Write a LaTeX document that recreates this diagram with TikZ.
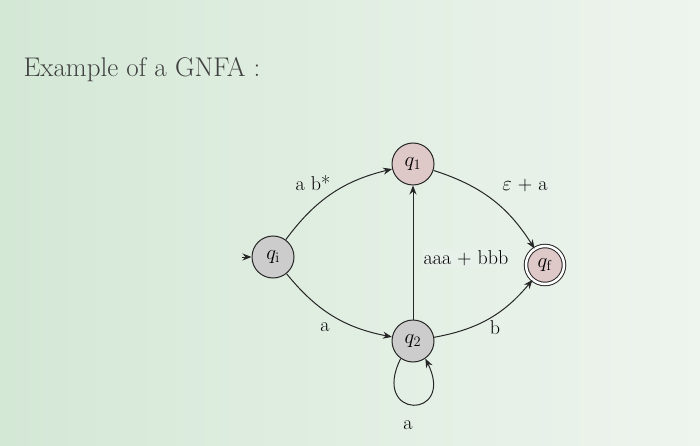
\documentclass[tikz,border=0pt]{standalone}
\usetikzlibrary{arrows.meta}
\begin{document}
\begin{tikzpicture}[x=1pt,y=-1pt,
  st/.style={circle,draw=black!85,line width=1pt,minimum size=42pt,inner sep=0pt,font=\fontsize{22}{26}\selectfont},
  gray st/.style={st,fill=black!20},
  pink st/.style={st,fill={rgb,255:red,222;green,200;blue,200}},
  edge/.style={draw=black!85,line width=1pt,-{Stealth[length=9pt,width=7pt]}},
  lbl/.style={font=\fontsize{20}{24}\selectfont}]
\shade[left color={rgb,255:red,212;green,232;blue,214},right color={rgb,255:red,238;green,244;blue,238}] (0,0) rectangle (700,446);
\useasboundingbox (0,0) rectangle (700,446);
\node[anchor=west,font=\fontsize{27}{32}\selectfont,text=black!75] (title) at (20,70) {Example of a GNFA :};
\node[gray st] (qi) at (273,257) {$q_{\mathrm{i}}$};
\node[pink st] (q1) at (413,164) {$q_1$};
\node[gray st] (q2) at (413,341) {$q_2$};
\node[pink st,double,double distance=2.5pt,minimum size=38pt] (qf) at (545,265) {$q_{\mathrm{f}}$};
\coordinate (s) at (242,257);
\draw[edge] (s) -- (qi);
\draw[edge] (qi) to[bend left=20] (q1);
\draw[edge] (q1) to[bend left=20] (qf);
\draw[edge] (qi) to[bend right=20] (q2);
\draw[edge] (q2) to[bend right=20] (qf);
\draw[edge] (q2) -- (q1);
\draw[edge] (q2.-125) .. controls (370,420) and (456,420) .. (q2.-55);
\node[lbl] (l1) at (313,183) {a b*};
\node[lbl] (l2) at (525,186) {$\varepsilon$ + a};
\node[lbl,fill={rgb,255:red,232;green,241;blue,233},inner sep=1pt] (l3) at (466,258) {aaa + bbb};
\node[lbl] (l4) at (325,327) {a};
\node[lbl] (l5) at (495,328) {b};
\node[lbl] (l6) at (408,425) {a};
\end{tikzpicture}
\end{document}
